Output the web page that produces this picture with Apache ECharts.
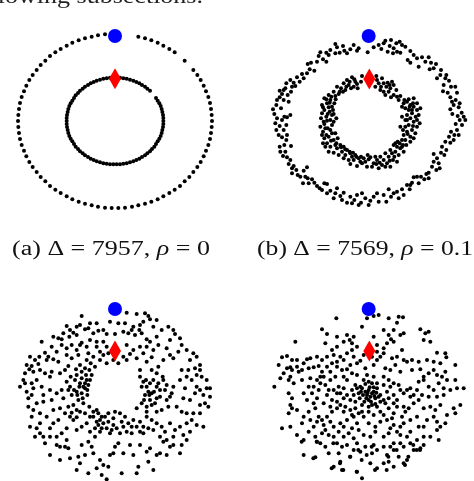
<!DOCTYPE html>
<html><head><meta charset="utf-8">
<script src="https://cdn.jsdelivr.net/npm/echarts@6/dist/echarts.min.js"></script>
<style>html,body{margin:0;padding:0;background:#fff}#c{width:474px;height:481px}</style>
</head><body><div id="c"></div>
<script>
// Panel (a): points on two rings (centred units, y up)
const outerRingA = [[291,0],[290,18],[288,36],[285,54],[280,72],[273,89],[266,106],[257,123],[247,138],[235,153],[209,181],[179,206],[163,216],[145,226],[128,235],[109,242],[90,248],[70,253],[10,261],
[-10,261],[-30,260],[-51,257],[-70,253],[-90,248],[-109,242],[-128,235],[-145,226],[-163,216],[-179,206],[-195,195],[-209,181],[-223,168],[-235,153],[-247,138],[-257,123],[-266,106],[-273,89],[-280,72],[-285,54],[-288,36],[-290,18],[-291,0],
[-290,-18],[-288,-36],[-285,-54],[-280,-72],[-273,-89],[-266,-106],[-257,-123],[-247,-138],[-235,-153],[-223,-168],[-209,-181],[-195,-195],[-179,-206],[-163,-216],[-145,-226],[-128,-235],[-109,-242],[-90,-248],[-70,-253],[-51,-257],[-30,-260],[-10,-261],
[10,-261],[30,-260],[51,-257],[70,-253],[90,-248],[109,-242],[128,-235],[145,-226],[163,-216],[179,-206],[195,-195],[209,-181],[223,-168],[235,-153],[247,-138],[257,-123],[266,-106],[273,-89],[280,-72],[285,-54],[288,-36],[290,-18]];
const innerRingA = [[145,0],[145,9],[144,18],[142,27],[140,36],[137,45],[133,53],[128,61],[123,69],[105,91],[97,97],[90,103],[81,108],[73,113],[64,117],[55,121],[45,124],[35,127],[25,128],[15,130],[5,130],
[-5,130],[-15,130],[-25,128],[-35,127],[-45,124],[-55,121],[-64,117],[-73,113],[-81,108],[-90,103],[-97,97],[-105,91],[-111,84],[-118,77],[-123,69],[-128,61],[-133,53],[-137,45],[-140,36],[-142,27],[-144,18],[-145,9],[-145,0],
[-145,-9],[-144,-18],[-142,-27],[-140,-36],[-137,-45],[-133,-53],[-128,-61],[-123,-69],[-118,-77],[-111,-84],[-105,-91],[-97,-97],[-90,-103],[-81,-108],[-73,-113],[-64,-117],[-55,-121],[-45,-124],[-35,-127],[-25,-128],[-15,-130],[-5,-130],
[5,-130],[15,-130],[25,-128],[35,-127],[45,-124],[55,-121],[64,-117],[73,-113],[81,-108],[90,-103],[97,-97],[105,-91],[111,-84],[118,-77],[123,-69],[128,-61],[133,-53],[137,-45],[140,-36],[142,-27],[144,-18],[145,-9]];
const blueA = [0,255], redA = [0,127];

// Panels (b)-(d): picture units (x right, y down)
const dotsB = [[295,72],[300,82],[318,78],[322,92],[308,98],[295,100],[340,88],[360,92],[365,85],[392,97],[410,82],[433,87],[440,70],[445,62],[462,60],[458,78],[470,85],[478,70],[488,65],[495,75],[480,95],[468,100],[490,98],[520,93],[512,120],[520,128],[540,115],[545,140],[555,112],[575,112],[582,128],[597,132],[578,148],
[268,98],[275,105],[250,97],[245,108],[258,118],[268,125],[240,125],[222,128],[212,132],[218,148],[232,152],[210,160],[195,162],[180,172],[188,185],[170,188],[175,198],[160,180],[148,190],[145,205],[128,212],[135,222],[152,225],[162,215],[128,232],[140,240],[155,245],[118,255],[132,265],[112,282],[120,295],[135,300],[150,292],[160,285],[128,318],[140,330],[125,345],[135,352],[148,360],[142,375],[128,380],[162,378],
[138,408],[150,412],[160,420],[155,432],[170,438],[178,450],[165,460],[182,465],[200,452],[210,442],[205,470],[212,475],[198,490],[225,478],[232,488],[240,498],[262,490],[270,492],[255,510],[280,512],[295,520],[300,505],[310,528],[320,518],[340,530],[330,548],[352,540],[360,525],[375,520],[372,548],[385,535],[400,542],[420,520],[425,545],[448,545],[455,508],[462,530],[480,515],[495,508],[500,525],[510,495],[518,508],[525,488],[530,472],[545,490],[552,470],[562,478],[568,462],[575,458],[585,440],[598,450],[605,430],[600,415],[612,398],[590,402],[622,405],[615,380],
[625,365],[640,368],[636,350],[642,335],[652,345],[660,330],[656,312],[668,300],[662,288],[680,290],[646,282],[640,268],[650,255],[665,262],[674,278],[656,240],[640,232],[660,218],[632,218],[618,214],[642,200],[636,182],[625,175],[600,175],[612,150],[628,165],
[280,90],[330,100],[350,75],[425,75],[452,95],[505,80],[530,105],[565,125],[590,145],
[200,175],[165,200],[140,210],[120,240],[108,268],[142,290],[115,310],[148,315],[118,330],[150,345],[130,395],[145,395],[165,445],[190,470],[215,490],[248,505],[270,520],
[290,535],[315,540],[345,550],[365,555],[395,555],[410,530],[440,525],[470,520],[485,535],[520,495],[540,470],[575,475],[590,425],[608,445],
[628,390],[650,360],[665,345],[675,315],[685,300],[668,250],[645,245],[620,195],[655,200],[610,165],
[330,180],[345,172],[355,185],[350,200],[335,195],[320,190],[312,205],[300,200],[325,210],[360,192],[375,168],[420,180],[435,175],[440,190],[448,200],[460,205],[470,195],[455,215],[470,225],[480,230],[430,210],[415,200],[440,215],[465,185],
[290,215],[275,225],[262,235],[280,240],[270,250],[255,255],[285,260],[262,270],[278,275],[290,282],[268,290],[252,295],[280,300],[262,312],[250,320],[272,325],[258,335],[285,340],[275,350],[262,355],[290,360],[270,370],[280,380],[295,375],[265,380],
[300,385],[310,375],[320,380],[315,395],[330,390],[340,400],[325,405],[345,410],[355,405],[350,420],[365,415],[370,425],[380,415],[395,418],[410,430],[405,440],[400,412],[420,420],[430,410],[440,420],[450,430],[435,435],[455,410],[465,400],[460,390],[475,395],[480,380],[470,375],[490,385],[482,365],[495,360],
[500,250],[510,245],[520,255],[505,265],[515,270],[530,260],[525,280],[510,285],[540,270],[520,295],[505,300],[530,305],[515,315],[540,320],[525,330],[510,335],[500,345],[520,350],[505,360],[490,320],[495,290],[530,235],[515,238],[540,250],
[283,230],[268,238],[275,262],[288,270],[272,282],[260,305],[285,315],[268,345],[298,370],[312,382],[325,388],[338,395],[348,398],[358,410],[372,410],[385,425],[418,432],[428,428],[445,400],[458,422],[472,410],[488,370],[498,375],[512,342],[528,318],[536,290],[518,260],[502,240],[490,228],[478,210],[458,195],[395,170],[318,215],[305,222],[296,238],
[338,185],[328,200],[342,205],[362,205],[372,185],[425,190],[452,188],[445,225],[462,232],[485,240],[308,215],[295,228],[352,178],[418,168],[432,200],
[278,248],[292,250],[258,262],[285,285],[298,295],[255,280],[270,302],[290,305],[255,345],[280,330],[295,340],[265,325],[282,362],[302,355],[258,370],[275,395],[290,398],[305,405],
[320,415],[335,420],[340,432],[360,438],[375,430],[390,440],[392,405],[415,410],[425,445],[445,440],[460,440],[468,420],[480,425],[485,405],[500,395],[495,380],[475,370],
[495,260],[528,250],[545,285],[548,310],[535,340],[520,365],[508,375],[525,270],[510,300],[540,300],[550,265],[498,330],[505,320],[530,355]];
const blueB = [395,48], redB = [397,177];

const dotsC = [[245,108],[380,98],[410,102],[435,100],[445,108],[375,130],[400,140],[420,135],[430,125],[450,118],[460,140],[418,150],[240,135],[270,130],[255,148],[200,138],[210,150],[190,160],
[175,175],[185,178],[208,170],[220,158],[230,165],[265,145],[280,160],[295,152],[310,150],[320,162],[345,162],[370,155],[385,160],[395,150],[405,165],[425,160],[440,178],[450,185],[470,170],[475,195],[505,140],[520,150],[525,162],[540,175],[500,205],[310,185],[290,185],[270,180],[245,188],[240,195],[200,205],[185,195],[155,200],[125,185],[170,215],[135,218],[145,230],[118,230],
[90,230],[105,240],[115,252],[95,258],[80,255],[88,268],[75,280],[100,275],[120,270],[135,280],[150,290],[155,275],[140,240],[160,238],[175,245],[200,225],[215,235],[235,225],[265,220],[280,230],[300,215],[310,225],[325,220],[370,230],[380,240],[390,222],[400,210],[410,235],[430,220],[440,245],[455,232],[490,240],[475,260],[510,225],[535,215],[560,210],[580,220],[570,240],[590,230],[600,255],[545,270],[565,270],[585,265],[600,270],[590,285],[260,240],[272,250],[285,260],[240,255],[228,268],[255,265],[205,258],[195,270],[180,280],
[60,320],[80,335],[95,310],[110,300],[125,320],[130,345],[150,330],[95,345],[85,380],[110,370],[100,390],[130,365],[155,360],[170,340],[185,330],[200,305],[210,320],[225,300],[190,355],[215,345],[230,335],[240,310],[250,320],[260,300],[255,325],[265,315],[245,340],[235,360],[220,375],[205,380],[180,385],[160,390],
[420,290],[430,305],[440,320],[445,335],[455,340],[435,345],[460,300],[470,320],[480,330],[450,360],[465,370],[490,300],[500,315],[510,350],[520,320],[540,300],[555,325],[560,290],[575,300],[590,320],[585,340],[600,330],[620,325],[630,325],[610,345],[615,370],[625,380],[600,375],[570,360],[550,355],[530,380],[505,380],[485,390],[470,395],[440,380],[425,370],[410,385],
[90,440],[110,445],[120,460],[105,470],[130,470],[160,430],[175,420],[195,400],[210,410],[220,420],[230,412],[240,395],[255,400],[270,410],[280,395],[290,390],[300,420],[295,435],[310,430],[320,445],[285,445],[260,430],[245,440],[230,450],[200,445],[185,460],[170,470],[340,415],[360,400],[375,410],[385,430],[370,440],[350,445],[330,460],[400,420],[410,440],[420,455],[395,460],[440,410],[455,420],[470,430],[485,440],[495,455],[510,430],[525,450],[540,440],[560,430],[575,420],[590,435],[570,455],[550,465],[520,470],[500,480],[480,470],
[135,490],[150,525],[170,495],[180,540],[195,500],[205,505],[210,535],[235,530],[240,550],[245,495],[255,525],[265,580],[230,570],[275,500],[280,520],[290,565],[300,540],[305,585],[320,598],[330,525],[340,520],[310,555],[325,560],[355,490],[365,580],[370,520],[390,495],[400,525],[410,580],[415,560],[440,515],[445,545],[450,505],[460,570],[470,525],[480,520],[490,485],[500,525],[510,500],[520,495],[545,495],[265,485],[345,500],[420,495],
[245,295],[255,310],[238,320],[262,330],[248,355],[270,300],[258,285],[232,345],[222,330],[205,330],[212,290],[230,285],[245,275],[268,270],[275,285],[262,345],[250,370],[268,380],[230,390],[215,398],
[280,410],[295,400],[305,410],[290,425],[305,445],[315,410],[325,425],[340,435],[300,455],[285,470],[270,455],[325,400],[335,450],[360,460],[380,455],[395,440],[365,425],[345,395],[420,425],[430,440],[445,445],[460,450],[430,460],
[425,320],[438,300],[450,310],[462,335],[448,345],[470,355],[432,360],[455,375],[440,395],[480,350],[495,330],[475,310],[500,360],[515,340],[488,290],[470,280],[455,270],[420,270],
[300,240],[320,250],[340,240],[355,250],[290,200],[320,200],[350,205],[380,195],[420,200],[440,200],[460,210],[260,200],[230,210],[215,195],[160,170],[230,140],[290,130],[330,125],[355,130],[470,120],[485,150],[510,180],[545,195],[520,235],
[70,300],[75,310],[100,325],[85,355],[120,400],[140,410],[150,445],[120,430],[95,410],[620,300],[605,290],[630,350],[600,400],[580,400],[560,400],[545,395],[610,440],[560,480],[540,520],[150,470],[180,500],[200,480]];
const blueC = [345,87], redC = [345,213];

const dotsD = [[298,115],[390,115],[410,108],[425,105],[455,115],[485,110],[498,112],[480,128],[375,140],[255,148],[270,162],[265,190],[330,165],[338,180],[320,185],[345,190],[360,200],[300,200],[285,210],[175,185],[455,165],[462,178],[470,185],[490,165],[500,160],[450,190],[440,205],[495,210],[550,148],[565,160],[575,155],[560,180],[580,185],
[125,255],[135,232],[150,228],[160,262],[165,270],[180,240],[195,270],[210,238],[220,235],[230,262],[245,258],[255,275],[270,260],[285,250],[300,245],[310,230],[320,240],[330,268],[340,255],[350,230],[360,250],[370,242],[385,265],[410,255],[420,240],[430,230],[440,220],[445,265],[460,270],[475,255],[490,275],[510,245],[525,270],[550,268],[560,290],[575,280],[590,270],[600,285],[625,275],[655,255],[600,218],[625,220],[628,232],
[112,320],[130,295],[155,300],[160,290],[170,310],[185,275],[195,300],[220,295],[240,300],[250,290],[265,315],[280,300],[295,290],[305,320],[310,340],[320,325],[330,345],[345,330],[355,315],[365,340],[375,325],[380,300],[385,335],[390,345],[395,330],[400,350],[405,310],[410,335],[415,355],[420,325],[430,345],[440,315],[450,335],[460,320],[470,345],[485,315],[500,340],[510,330],[520,325],[530,345],[545,305],[560,300],[575,320],[590,330],[605,310],[620,325],[640,330],[660,325],[680,325],[225,340],[240,355],[200,340],[155,340],[165,355],[245,330],[270,345],[285,360],[300,365],
[160,375],[165,385],[155,400],[135,445],[180,390],[215,395],[235,385],[245,410],[255,420],[270,410],[285,395],[300,385],[310,375],[325,380],[340,390],[355,385],[365,400],[380,410],[395,395],[405,375],[420,380],[430,395],[445,370],[455,385],[470,400],[480,380],[495,410],[505,395],[515,385],[530,370],[545,360],[560,385],[580,380],[595,390],[610,375],[650,385],[655,400],[670,375],[350,410],[360,430],[330,420],[310,430],[290,440],[260,435],[240,425],[430,425],[450,420],[470,435],[490,440],[520,420],[545,440],[570,420],[600,425],[625,430],[160,440],[195,430],
[180,465],[200,480],[215,455],[235,470],[240,485],[255,460],[275,465],[290,470],[305,455],[320,470],[335,460],[350,475],[365,450],[380,465],[400,470],[415,455],[440,470],[455,460],[470,490],[490,465],[510,470],[520,455],[540,480],[560,470],[580,470],[600,450],[605,480],[300,490],[330,495],[360,490],[385,500],[410,495],[440,500],[470,510],[500,500],[530,510],[550,505],[200,525],[235,532],[275,520],
[305,520],[340,530],[370,515],[405,520],[450,525],[485,530],[510,540],[310,545],[290,560],[315,570],[360,575],[375,595],[400,550],[420,565],[440,550],[455,545],[470,560],[500,550],
[194,485],[229,535],[239,485],[284,565],[289,490],[309,550],[319,570],[339,530],[364,510],[374,540],[359,575],[389,525],[404,500],[414,570],[449,570],[454,530],[479,510],[504,555],[514,530],[529,495],[539,510],[549,510],
[370,320],[378,345],[388,355],[392,338],[398,322],[405,340],[412,348],[395,360],[382,365],[368,355],[402,365],[418,338],[425,350],[372,335],[360,325],[395,305],[385,312],[410,322],[420,310],[350,345],[340,360],[355,365],[375,375],[395,380],[415,372],[430,365],
[330,300],[320,290],[345,280],[360,285],[390,285],[410,290],[440,290],[455,300],[470,310],[490,330],[480,360],[470,370],[455,355],[440,360],[320,355],[300,340],[290,330],[275,330],[260,290],[250,310],[230,320],[215,320],[210,360],[230,370],[260,370],[280,380],[320,395],[345,405],[375,395],[410,405],[440,405],[465,415],[500,380],[520,350],[540,330],[555,345],[575,350],[600,350],[620,345],[630,300],[615,290],[655,300],
[300,260],[315,270],[280,275],[255,240],[240,230],[270,230],[290,225],[330,220],[345,210],[380,225],[405,230],[420,215],[465,235],[480,230],[500,240],[525,240],[545,245],[570,240],[590,245],[610,250],[200,250],[215,265],[180,260],[150,265],[140,280],[165,240],[300,170],[350,170],[410,170],[440,150],[470,150],[420,195],
[200,410],[220,420],[230,440],[265,450],[280,425],[320,440],[345,445],[395,430],[415,440],[460,445],[480,455],[500,430],[540,410],[560,440],[590,410],[610,440],[630,405],[250,490],[265,500],[315,500],[350,510],[420,510],[460,500],[490,490],[520,490],[560,495]];
const blueD = [395,87], redD = [397,213];

const captionA = ['(a) Δ = 7957, ', 'ρ', ' = 0'];
const captionB = ['(b) Δ = 7569, ', 'ρ', ' = 0.1'];
const topText = 'following subsections.';

const chart = echarts.init(document.getElementById('c'), null, {renderer:'canvas'});
const grids = [
  {left:0, top:20, width:237, height:200},
  {left:237, top:20, width:237, height:200},
  {left:0, top:280, width:237, height:200},
  {left:237, top:280, width:237, height:200}
];
const xAxes = [
  {gridIndex:0, type:'value', min:-345, max:366, show:false},
  {gridIndex:1, type:'value', min:0, max:711, show:false},
  {gridIndex:2, type:'value', min:0, max:711, show:false},
  {gridIndex:3, type:'value', min:0, max:711, show:false}
];
const yAxes = [
  {gridIndex:0, type:'value', min:-297, max:303, show:false},
  {gridIndex:1, type:'value', min:0, max:600, inverse:true, show:false},
  {gridIndex:2, type:'value', min:0, max:600, inverse:true, show:false},
  {gridIndex:3, type:'value', min:0, max:600, inverse:true, show:false}
];
function dots(i, data, size){
  return {type:'scatter', xAxisIndex:i, yAxisIndex:i, data:data, symbol:'circle', symbolSize:size,
    itemStyle:{color:'#000', opacity:1}, silent:true, animation:false, clip:false, z:2, large:false};
}
function blue(i, p){return {type:'scatter', xAxisIndex:i, yAxisIndex:i, data:[p], symbol:'circle', symbolSize:14, itemStyle:{color:'#0000ff', opacity:1}, silent:true, animation:false, clip:false, z:5};}
function red(i, p){return {type:'scatter', xAxisIndex:i, yAxisIndex:i, data:[p], symbol:'diamond', symbolSize:[12,21], itemStyle:{color:'#ff0000', opacity:1}, silent:true, animation:false, clip:false, z:5};}

const FS = 20;
const FONT = FS + 'px "Liberation Serif"';
const cv = document.createElement('canvas').getContext('2d');
function measure(str, font){ cv.font = font; return cv.measureText(str).width; }
function caption(x, parts, targetWidth){
  const w = measure(parts[0]+parts[2], FONT) + measure(parts[1], 'italic ' + FONT);
  return {type:'text', x:x, y:250, scaleX: targetWidth / w, originX:0,
    style:{
      text: parts[0] + '{i|' + parts[1] + '}' + parts[2],
      font: FONT, fill:'#111', align:'left', verticalAlign:'middle',
      rich:{i:{fontStyle:'italic', fontFamily:'Liberation Serif', fontSize:FS, fill:'#111'}}
    }};
}
const capA = caption(12, captionA, 198);
const capB = caption(257, captionB, 216);
chart.setOption({
  animation:false,
  backgroundColor:'#fff',
  grid: grids,
  xAxis: xAxes,
  yAxis: yAxes,
  series:[
    dots(0, outerRingA, 4), dots(0, innerRingA, 4), blue(0, blueA), red(0, redA),
    dots(1, dotsB, 4), blue(1, blueB), red(1, redB),
    dots(2, dotsC, 4), blue(2, blueC), red(2, redC),
    dots(3, dotsD, 4), blue(3, blueD), red(3, redD)
  ],
  graphic:[
    capA, capB,
    {type:'text', x:203, y:-2.5, scaleX: capA.scaleX, style:{text: topText, font: FONT, fill:'#222', align:'right', verticalAlign:'middle'}}
  ]
});
</script></body></html>
